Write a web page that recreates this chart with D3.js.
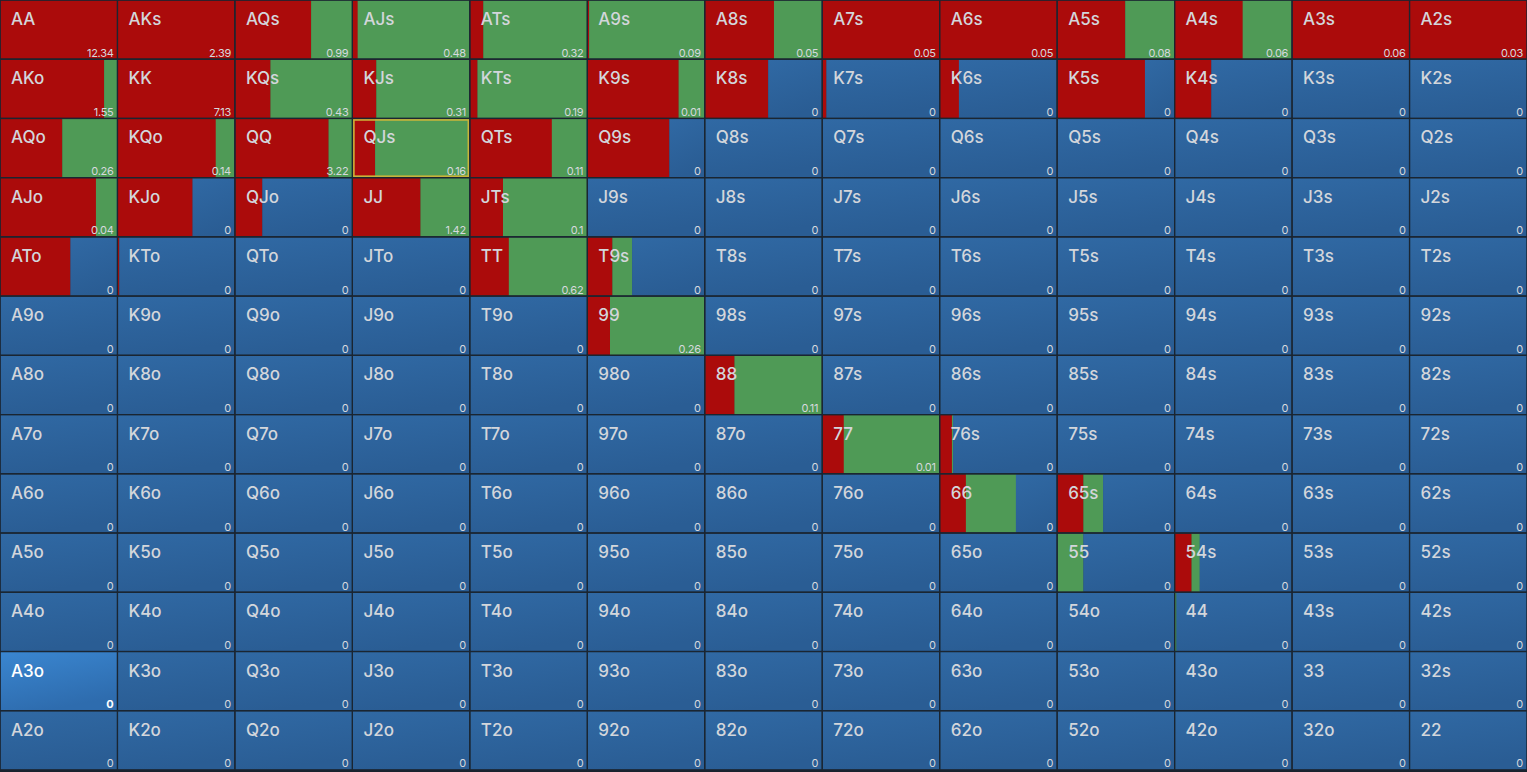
<!DOCTYPE html>
<html>
<head>
<meta charset="utf-8">
<script src="https://cdn.jsdelivr.net/npm/d3@7"></script>
<style>
  html, body { margin: 0; padding: 0; background: #18222d; }
  svg { display: block; }
</style>
</head>
<body>
<svg id="chart" width="1527" height="772"></svg>
<script>
// ---- data ----
const ranks = ["A","K","Q","J","T","9","8","7","6","5","4","3","2"];

// fraction of each cell shown in red (row by row)
const redFrac = [
  [1, 1, 0.65, 0.04, 0.11, 0.01, 0.59, 1, 1, 0.58, 0.58, 1, 1],
  [0.89, 1, 0.30, 0.20, 0.06, 0.78, 0.54, 0.03, 0.16, 0.75, 0.31, 0, 0],
  [0.53, 0.84, 0.80, 0.19, 0.70, 0.70, 0, 0, 0, 0, 0, 0, 0],
  [0.82, 0.64, 0.23, 0.58, 0.28, 0, 0, 0, 0, 0, 0, 0, 0],
  [0.60, 0.01, 0, 0, 0.33, 0.21, 0, 0, 0, 0, 0, 0, 0],
  [0, 0, 0, 0, 0, 0.19, 0, 0, 0, 0, 0, 0, 0],
  [0, 0, 0, 0, 0, 0, 0.25, 0, 0, 0, 0, 0, 0],
  [0, 0, 0, 0, 0, 0, 0, 0.18, 0.10, 0, 0, 0, 0],
  [0, 0, 0, 0, 0, 0, 0, 0, 0.22, 0.22, 0, 0, 0],
  [0, 0, 0, 0, 0, 0, 0, 0, 0, 0, 0.14, 0, 0],
  [0, 0, 0, 0, 0, 0, 0, 0, 0, 0, 0, 0, 0],
  [0, 0, 0, 0, 0, 0, 0, 0, 0, 0, 0, 0, 0],
  [0, 0, 0, 0, 0, 0, 0, 0, 0, 0, 0, 0, 0]
];

// fraction of each cell shown in green (row by row)
const greenFrac = [
  [0, 0, 0.35, 0.96, 0.89, 0.99, 0.41, 0, 0, 0.42, 0.42, 0, 0],
  [0.11, 0, 0.70, 0.80, 0.94, 0.22, 0, 0, 0, 0, 0, 0, 0],
  [0.47, 0.16, 0.20, 0.81, 0.30, 0, 0, 0, 0, 0, 0, 0, 0],
  [0.18, 0, 0, 0.42, 0.72, 0, 0, 0, 0, 0, 0, 0, 0],
  [0, 0, 0, 0, 0.67, 0.17, 0, 0, 0, 0, 0, 0, 0],
  [0, 0, 0, 0, 0, 0.81, 0, 0, 0, 0, 0, 0, 0],
  [0, 0, 0, 0, 0, 0, 0.75, 0, 0, 0, 0, 0, 0],
  [0, 0, 0, 0, 0, 0, 0, 0.82, 0.01, 0, 0, 0, 0],
  [0, 0, 0, 0, 0, 0, 0, 0, 0.43, 0.17, 0, 0, 0],
  [0, 0, 0, 0, 0, 0, 0, 0, 0, 0.22, 0.07, 0, 0],
  [0, 0, 0, 0, 0, 0, 0, 0, 0, 0, 0.01, 0, 0],
  [0, 0, 0, 0, 0, 0, 0, 0, 0, 0, 0, 0, 0],
  [0, 0, 0, 0, 0, 0, 0, 0, 0, 0, 0, 0, 0]
];

// value printed in the bottom-right corner of each cell
const cellValue = [
  [12.34, 2.39, 0.99, 0.48, 0.32, 0.09, 0.05, 0.05, 0.05, 0.08, 0.06, 0.06, 0.03],
  [1.55, 7.13, 0.43, 0.31, 0.19, 0.01, 0, 0, 0, 0, 0, 0, 0],
  [0.26, 0.14, 3.22, 0.16, 0.11, 0, 0, 0, 0, 0, 0, 0, 0],
  [0.04, 0, 0, 1.42, 0.1, 0, 0, 0, 0, 0, 0, 0, 0],
  [0, 0, 0, 0, 0.62, 0, 0, 0, 0, 0, 0, 0, 0],
  [0, 0, 0, 0, 0, 0.26, 0, 0, 0, 0, 0, 0, 0],
  [0, 0, 0, 0, 0, 0, 0.11, 0, 0, 0, 0, 0, 0],
  [0, 0, 0, 0, 0, 0, 0, 0.01, 0, 0, 0, 0, 0],
  [0, 0, 0, 0, 0, 0, 0, 0, 0, 0, 0, 0, 0],
  [0, 0, 0, 0, 0, 0, 0, 0, 0, 0, 0, 0, 0],
  [0, 0, 0, 0, 0, 0, 0, 0, 0, 0, 0, 0, 0],
  [0, 0, 0, 0, 0, 0, 0, 0, 0, 0, 0, 0, 0],
  [0, 0, 0, 0, 0, 0, 0, 0, 0, 0, 0, 0, 0]
];

const selectedHand = "QJs";
const hoveredHand = "A3o";

// ---- drawing ----
const W = 1527, H = 770;
const svg = d3.select("#chart");

const defs = svg.append("defs");
const g1 = defs.append("linearGradient").attr("id", "blueGrad").attr("x1", 0).attr("y1", 0).attr("x2", 0.3).attr("y2", 1);
g1.append("stop").attr("offset", "0%").attr("stop-color", "#3069a4");
g1.append("stop").attr("offset", "100%").attr("stop-color", "#2a5d94");
const g2 = defs.append("linearGradient").attr("id", "hoverGrad").attr("x1", 0).attr("y1", 0).attr("x2", 0.4).attr("y2", 1);
g2.append("stop").attr("offset", "0%").attr("stop-color", "#3a86d0");
g2.append("stop").attr("offset", "100%").attr("stop-color", "#2e6cae");

const x = d3.scaleBand().domain(d3.range(13)).range([0, W]).paddingInner(0);
const y = d3.scaleBand().domain(d3.range(13)).range([0, H]).paddingInner(0);

function handLabel(r, c) {
  if (r === c) return ranks[r] + ranks[c];
  if (c > r) return ranks[r] + ranks[c] + "s";
  return ranks[c] + ranks[r] + "o";
}

const cells = [];
for (let r = 0; r < 13; r++) {
  for (let c = 0; c < 13; c++) {
    const red = redFrac[r][c], green = greenFrac[r][c];
    cells.push({ r, c, label: handLabel(r, c), red, green, blue: Math.max(0, 1 - red - green), value: cellValue[r][c] });
  }
}

svg.append("rect").attr("width", W).attr("height", 772).attr("fill", "#18222d");

const cellG = svg.selectAll("g.cell").data(cells).join("g")
  .attr("class", "cell")
  .attr("transform", d => `translate(${x(d.c)},${y(d.r)})`);

const cw = x.bandwidth(), ch = y.bandwidth();
const inset = 0.6;
const frac = d3.scaleLinear().domain([0, 1]).range([0, cw - 2 * inset]);

cellG.each(function(d) {
  const g = d3.select(this);
  const hovered = d.label === hoveredHand;
  const segs = [
    { v: d.red, fill: "#ab0b0b" },
    { v: d.green, fill: "#4f9a56" },
    { v: d.blue, fill: hovered ? "url(#hoverGrad)" : "url(#blueGrad)" }
  ];
  let acc = 0;
  segs.forEach(s => {
    if (s.v <= 0) return;
    g.append("rect")
      .attr("x", inset + frac(acc))
      .attr("y", inset)
      .attr("width", frac(s.v) + 0.3)
      .attr("height", ch - 2 * inset)
      .attr("fill", s.fill);
    acc += s.v;
  });
  g.append("rect")
    .attr("x", 0).attr("y", 0).attr("width", cw).attr("height", ch)
    .attr("fill", "none").attr("stroke", "#1b2632").attr("stroke-width", 1.2);

  if (d.label === selectedHand) {
    g.append("rect")
      .attr("x", 1.5).attr("y", 1.5).attr("width", cw - 3).attr("height", ch - 3)
      .attr("fill", "none").attr("stroke", "#c9b43a").attr("stroke-width", 1.6);
  }

  g.append("text")
    .attr("x", 11).attr("y", 25)
    .attr("font-family", "Inter, 'Open Sans', sans-serif")
    .attr("font-weight", 500)
    .attr("font-size", 17)
    .attr("fill", hovered ? "#ffffff" : "#d3d6db")
    .text(d.label);

  g.append("text")
    .attr("x", cw - 4).attr("y", ch - 2.5)
    .attr("text-anchor", "end")
    .attr("font-family", "Inter, 'Open Sans', sans-serif")
    .attr("font-weight", hovered ? 700 : 400)
    .attr("font-size", 11)
    .attr("letter-spacing", -0.3)
    .attr("fill", hovered ? "#ffffff" : "#d6d9de")
    .text(String(d.value));
});
</script>
</body>
</html>
